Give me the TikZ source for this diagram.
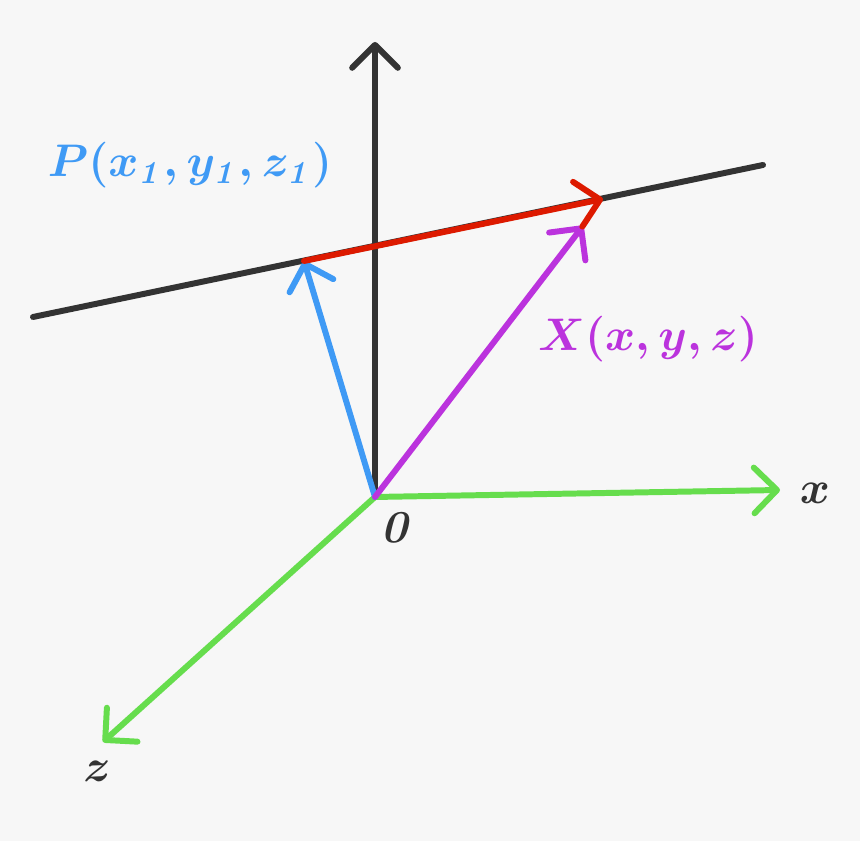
\RequirePackage{fix-cm}
\documentclass[tikz,border=0pt]{standalone}
\usepackage{amsmath,amssymb}
\usepackage{tikz}
\usetikzlibrary{arrows.meta,calc}
\definecolor{bgc}{HTML}{F7F7F7}
\definecolor{axc}{HTML}{333333}
\definecolor{ptc}{HTML}{3F9AF5}
\definecolor{vxc}{HTML}{BB33DD}
\definecolor{dirc}{HTML}{DD1A00}
\definecolor{zxc}{HTML}{66DD4D}
\tikzset{
  vec/.style={line width=1.7pt,line cap=round,-{Straight Barb[round,length=6.5pt,width=13pt]}},
  lbl/.style={font=\fontsize{13}{16}\selectfont\boldmath}
}
\begin{document}
\begin{tikzpicture}[>=Latex]
\fill[bgc] (0,0) rectangle (8.6,8.41);
\useasboundingbox (0,0) rectangle (8.6,8.41);

% Points
\coordinate (O) at (3.75,3.44);
\coordinate (P) at (3.04,5.80);
\coordinate (Q) at (6.03,6.42);
\coordinate (X) at (5.83,6.15);
\coordinate (yend) at (3.75,7.99);
\coordinate (xend) at (7.80,3.51);
\coordinate (zend) at (1.03,0.99);
\coordinate (la) at (0.33,5.24);
\coordinate (lb) at (7.63,6.76);

% The line
\draw[axc,line width=1.7pt,line cap=round] (la) -- (lb);

% Axes
\draw[vec,axc] (O) -- (yend);
\draw[vec,zxc] (O) -- (xend);
\draw[vec,zxc] (O) -- (zend);

% Vectors
\draw[vec,ptc] (O) -- (P);
\draw[vec,vxc] (O) -- (X);
\draw[vec,dirc] (P) -- (Q);

% Labels
\node[lbl,axc] (xlab) at (8.15,3.48) {$x$};
\node[lbl,axc] (zlab) at (0.97,0.70) {$z$};
\node[lbl,axc] (olab) at (3.97,3.13) {$\mathit{0}$};
\node[lbl,ptc] (plab) at (1.90,6.76) {$P(x_{\mathit{1}},y_{\mathit{1}},z_{\mathit{1}})$};
\node[lbl,vxc] (xvlab) at (6.48,5.02) {$X(x,y,z)$};
\end{tikzpicture}
\end{document}
